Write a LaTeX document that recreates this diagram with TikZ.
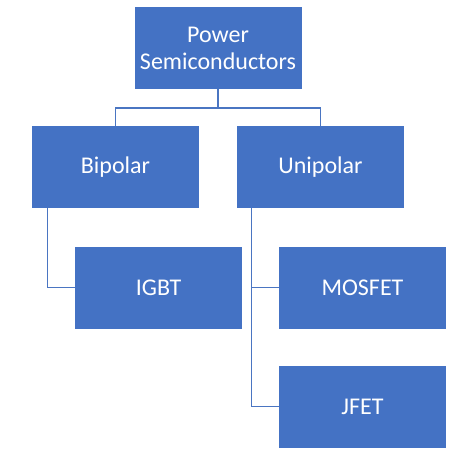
\documentclass[tikz,border=0pt]{standalone}
\usepackage{fontspec}
\setmainfont{Carlito}
\definecolor{boxblue}{HTML}{4472C4}
\definecolor{lineblue}{HTML}{4A75C2}
\begin{document}
\begin{tikzpicture}[x=1pt,y=-1pt,
  box/.style={fill=boxblue, draw=none, text=white, minimum width=167pt, minimum height=82pt, inner sep=0pt, align=center, font=\fontsize{24}{27}\selectfont},
  conn/.style={draw=lineblue, line width=1.1pt}]
\useasboundingbox (0,0) rectangle (455,463);
\node[box] (power) at (218,48) {Power\\Semiconductors};
\node[box] (bipolar) at (115.5,167) {Bipolar};
\node[box] (unipolar) at (320.5,167) {Unipolar};
\node[box] (igbt) at (158.5,287.5) {IGBT};
\node[box] (mosfet) at (362.5,287.5) {MOSFET};
\node[box] (jfet) at (362.5,406.5) {JFET};
\coordinate (mid) at (218,108);
\draw[conn] (power.south) -- (mid) -| (bipolar.north);
\draw[conn] (mid) -| (unipolar.north);
\draw[conn] ([xshift=16pt]bipolar.south west) |- (igbt.west);
\draw[conn] ([xshift=15pt]unipolar.south west) |- (mosfet.west);
\draw[conn] ([xshift=15pt]unipolar.south west) |- (jfet.west);
\end{tikzpicture}
\end{document}
